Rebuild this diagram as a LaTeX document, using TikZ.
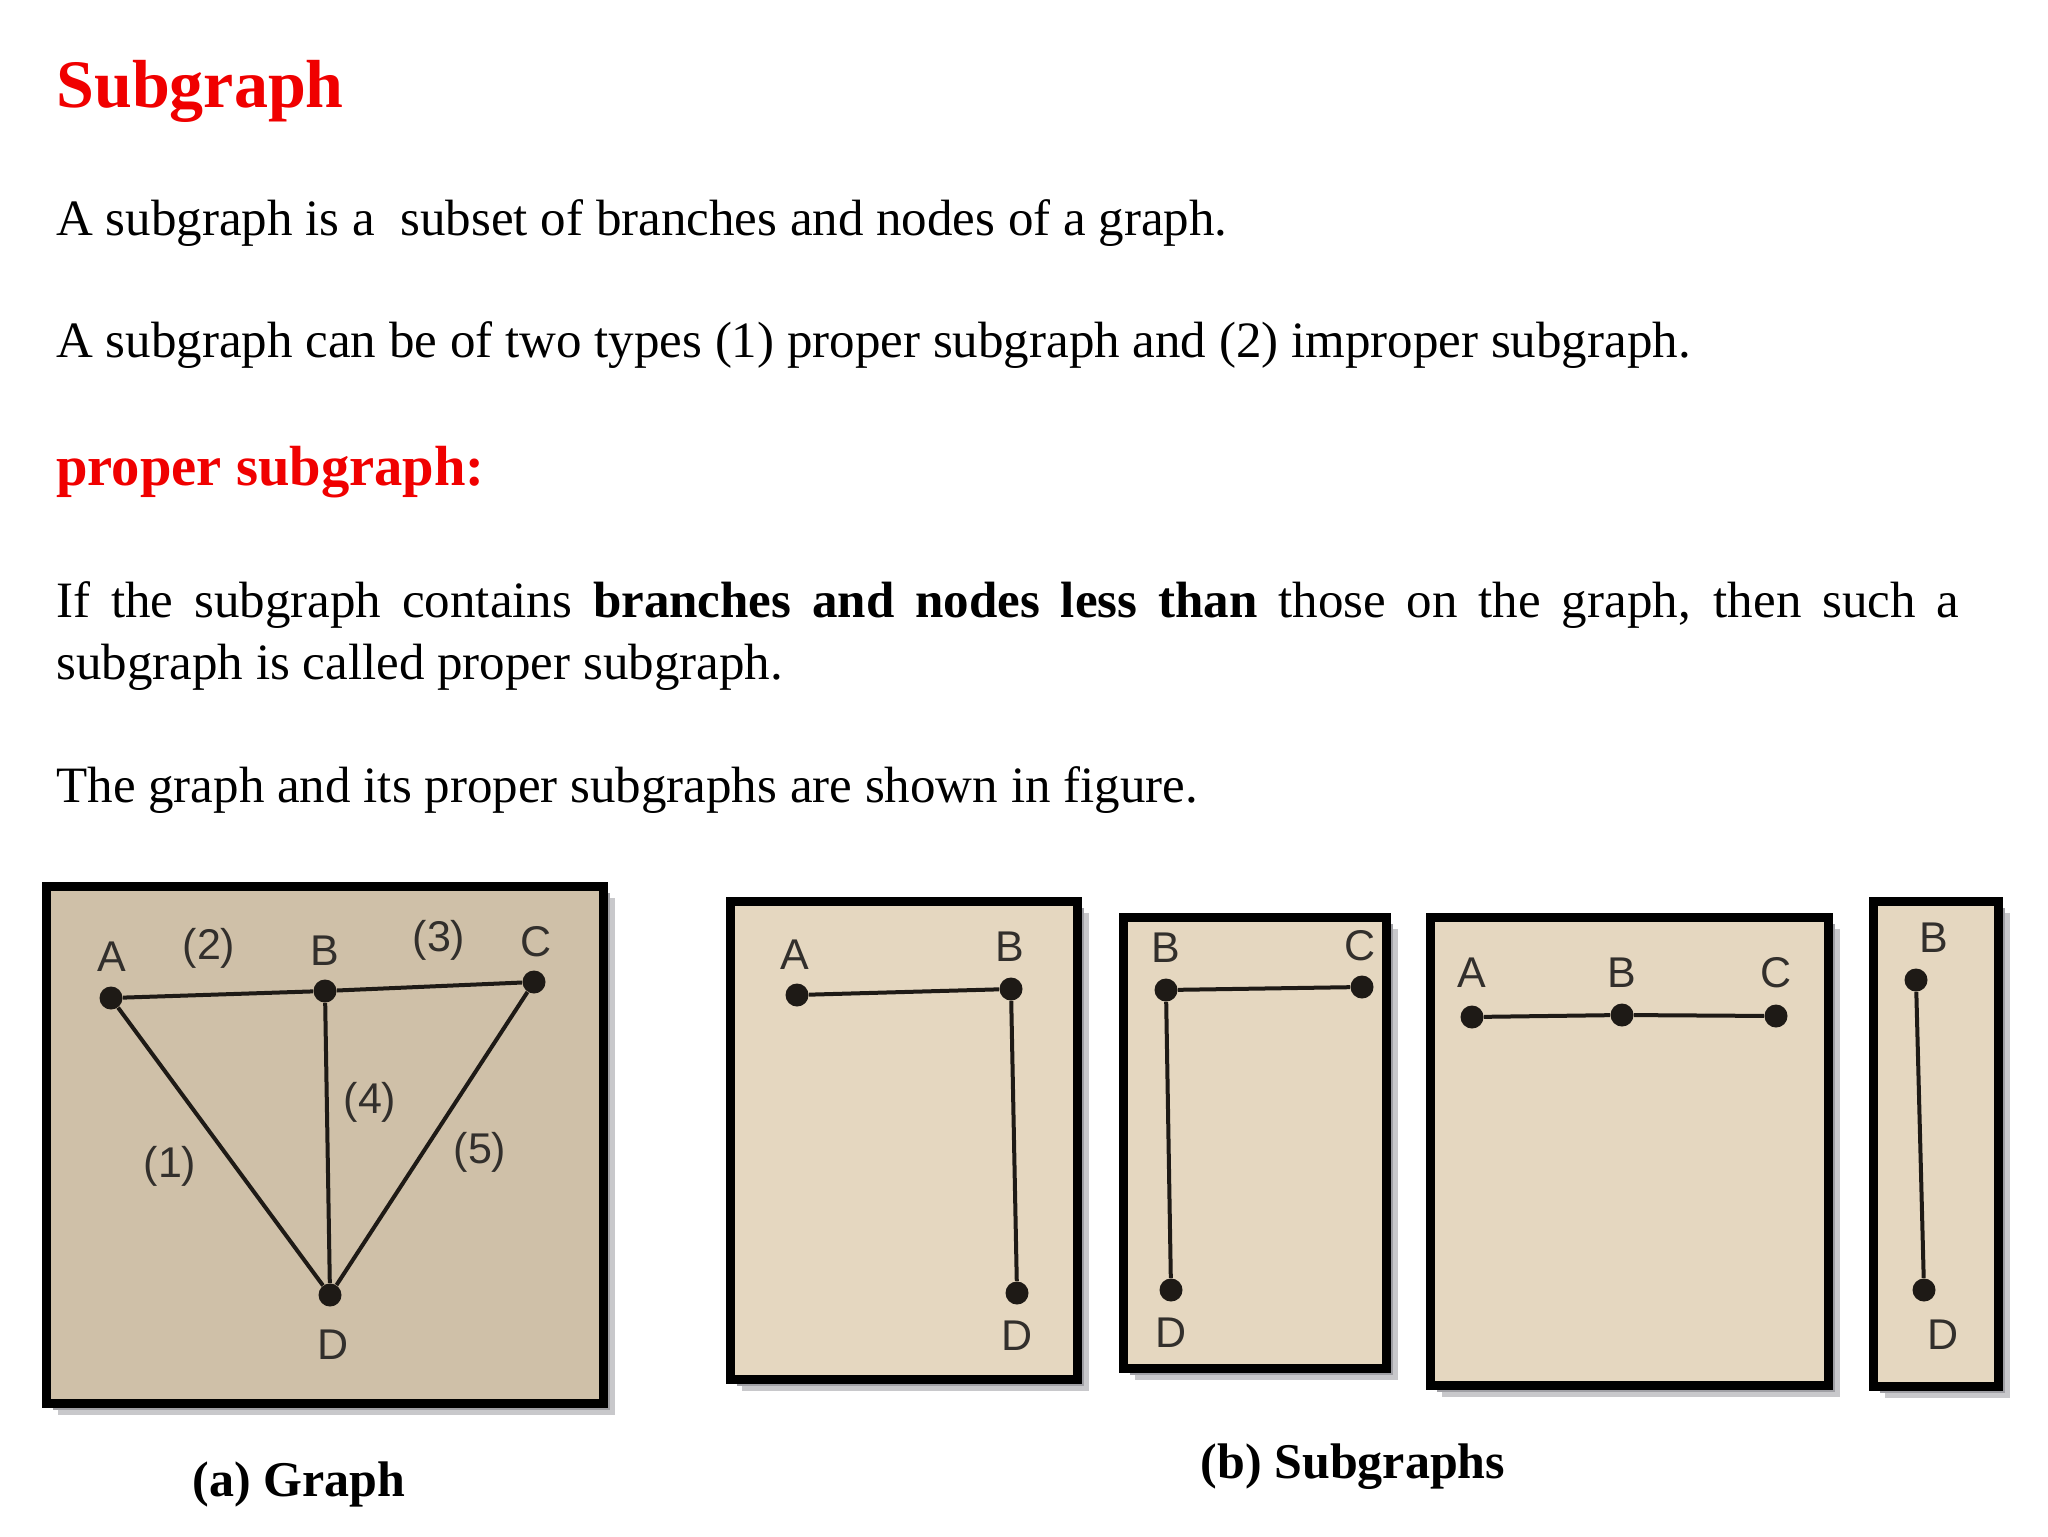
\documentclass[tikz,border=0pt]{standalone}
\usepackage{fontspec}
\setmainfont{Liberation Serif}
\newfontfamily\lblfont{Liberation Sans}
\definecolor{graphfill}{RGB}{207,192,168}
\definecolor{subfill}{RGB}{229,215,192}
\definecolor{ink}{RGB}{30,26,22}
\definecolor{lblgray}{RGB}{50,47,44}
\definecolor{shadowA}{RGB}{200,200,203}
\definecolor{shadowB}{RGB}{160,160,165}
\definecolor{headred}{RGB}{240,0,0}
\tikzset{
  frame/.style={draw=black, line width=4.5pt},
  shadowfar/.style={fill=shadowA},
  shadownear/.style={fill=shadowB},
  dot/.style={circle, fill=ink, inner sep=0pt, minimum size=11.5pt},
  lbl/.style={font=\lblfont\fontsize{21.5}{21.5}\selectfont, text=lblgray, inner sep=0pt},
  edge/.style={draw=ink, line width=2pt},
  body/.style={font=\fontsize{25.5}{31}\selectfont, anchor=base west, inner sep=0pt},
  headline/.style={font=\bfseries\fontsize{28.3}{31}\selectfont, text=headred, anchor=base west, inner sep=0pt},
  titleline/.style={font=\bfseries\fontsize{34}{40}\selectfont, text=headred, anchor=base west, inner sep=0pt},
  caption/.style={font=\bfseries\fontsize{25}{30}\selectfont, anchor=base, inner sep=0pt},
}
\newcommand{\shadowedbox}[5]{%
  \fill[shadowfar] (#1+11,#2+11) rectangle (#3+11,#4+11);
  \fill[shadownear] (#1+6,#2+6) rectangle (#3+6,#4+6);
  \draw[frame, fill=#5] (#1,#2) rectangle (#3,#4);
}
\begin{document}
\begin{tikzpicture}[x=0.5pt, y=-0.5pt]
\useasboundingbox[fill=white] (0,0) rectangle (2048,1536);

% ---- text ----
\node[titleline] (title) at (56,108) {Subgraph};
\node[body] (l1) at (56,235) {A subgraph is a\ \ subset of branches and nodes of a graph.};
\node[body] (l2) at (56,357) {A subgraph can be of two types (1) proper subgraph and (2) improper subgraph.};
\node[headline] (head) at (56,485) {proper subgraph:};
\node[body] (p1) at (56,617) {\makebox[951.5pt][s]{If the subgraph contains \textbf{branches and nodes less than} those on the graph, then such a}};
\node[body] (p2) at (56,679) {subgraph is called proper subgraph.};
\node[body] (p3) at (56,802) {The graph and its proper subgraphs are shown in figure.};

% ---- boxes ----
\shadowedbox{46.5}{886.5}{603.5}{1403.5}{graphfill}
\shadowedbox{730.5}{901.5}{1077.5}{1379.5}{subfill}
\shadowedbox{1123.5}{917.5}{1386.5}{1368.5}{subfill}
\shadowedbox{1430.5}{917.5}{1828.5}{1385.5}{subfill}
\shadowedbox{1873.5}{901.5}{1998.5}{1386.5}{subfill}

% ---- (a) graph ----
\node[dot] (gA) at (111,998) {};
\node[dot] (gB) at (325,991) {};
\node[dot] (gC) at (534,982) {};
\node[dot] (gD) at (330,1295) {};
\draw[edge] (gA) -- (gB);
\draw[edge] (gB) -- (gC);
\draw[edge] (gA) -- (gD);
\draw[edge] (gB) -- (gD);
\draw[edge] (gC) -- (gD);
\node[lbl] (gAl) at (112,957) {A};
\node[lbl] (gBl) at (325,951) {B};
\node[lbl] (gCl) at (536,942) {C};
\node[lbl] (gDl) at (333,1345) {D};
\node[lbl] (e2) at (209,948) {(2)};
\node[lbl] (e3) at (439,940) {(3)};
\node[lbl] (e4) at (370,1102) {(4)};
\node[lbl] (e1) at (170,1166) {(1)};
\node[lbl] (e5) at (480,1152) {(5)};

% ---- subgraph 1 ----
\node[dot] (sA1) at (797,995) {};
\node[dot] (sB1) at (1011,989) {};
\node[dot] (sD1) at (1017,1293) {};
\draw[edge] (sA1) -- (sB1);
\draw[edge] (sB1) -- (sD1);
\node[lbl] (sA1l) at (795,955) {A};
\node[lbl] (sB1l) at (1010,947) {B};
\node[lbl] (sD1l) at (1017,1336) {D};

% ---- subgraph 2 ----
\node[dot] (sB2) at (1166,990) {};
\node[dot] (sC2) at (1362,987) {};
\node[dot] (sD2) at (1171,1290) {};
\draw[edge] (sB2) -- (sC2);
\draw[edge] (sB2) -- (sD2);
\node[lbl] (sB2l) at (1166,948) {B};
\node[lbl] (sC2l) at (1360,946) {C};
\node[lbl] (sD2l) at (1171,1333) {D};

% ---- subgraph 3 ----
\node[dot] (sA3) at (1472,1017) {};
\node[dot] (sB3) at (1622,1015) {};
\node[dot] (sC3) at (1776,1016) {};
\draw[edge] (sA3) -- (sB3);
\draw[edge] (sB3) -- (sC3);
\node[lbl] (sA3l) at (1472,973) {A};
\node[lbl] (sB3l) at (1622,973) {B};
\node[lbl] (sC3l) at (1776,973) {C};

% ---- subgraph 4 ----
\node[dot] (sB4) at (1916,980) {};
\node[dot] (sD4) at (1924,1290) {};
\draw[edge] (sB4) -- (sD4);
\node[lbl] (sB4l) at (1934,938) {B};
\node[lbl] (sD4l) at (1943,1335) {D};

% ---- captions ----
\node[caption] (capa) at (299,1496) {(a) Graph};
\node[caption] (capb) at (1353,1478) {(b) Subgraphs};
\end{tikzpicture}
\end{document}
